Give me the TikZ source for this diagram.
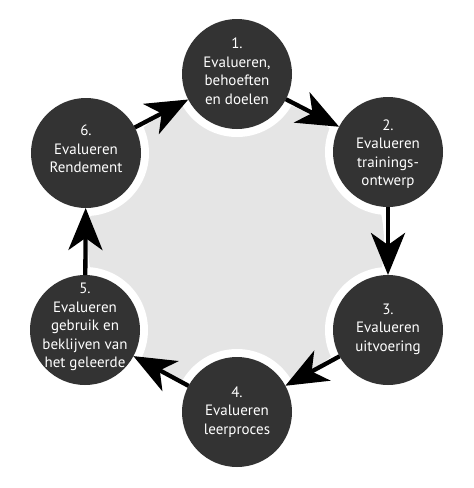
\documentclass[tikz,border=0pt]{standalone}
\usepackage{fontspec}
\setmainfont{PT Sans}
\usetikzlibrary{arrows.meta}
\definecolor{hubgray}{RGB}{229,229,229}
\definecolor{discdark}{RGB}{51,51,51}
\begin{document}
\begin{tikzpicture}[x=1pt,y=-1pt,
  hubdisc/.style={circle, fill=hubgray, minimum size=296pt, inner sep=0pt, outer sep=0pt},
  halo/.style={circle, fill=white, minimum size=126pt, inner sep=0pt, outer sep=0pt},
  stage/.style={circle, fill=discdark, minimum size=110pt, inner sep=0pt, outer sep=0pt},
  stagetext/.style={text=white, align=center, inner sep=0pt, font=\fontsize{15}{18.5}\selectfont},
  flow/.style={line width=4.3pt, -{Stealth[length=42pt,width=34pt,inset=12pt]}}]
\useasboundingbox (0,0) rectangle (474,488);
\node[hubdisc] (hub) at (236,243) {};
\foreach \n/\x/\y in {1/237/74, 2/388/152, 3/388/330, 4/237/412, 5/85/330, 6/86/153}
  \node[halo] (h\n) at (\x,\y) {};
\node[stage] (s1) at (237,74) {};
\node[stage] (s2) at (388,152) {};
\node[stage] (s3) at (388,330) {};
\node[stage] (s4) at (237,412) {};
\node[stage] (s5) at (85,330) {};
\node[stage] (s6) at (86,153) {};
\draw[flow] (s1) -- (s2);
\draw[flow] (s2) -- (s3);
\draw[flow] (s3) -- (s4);
\draw[flow] (s4) -- (s5);
\draw[flow] (s5) -- (s6);
\draw[flow] (s6) -- (s1);
\node[stagetext] (t1) at (237,71) {1.\\Evalueren,\\behoeften\\en doelen};
\node[stagetext] (t2) at (388,154) {2.\\Evalueren\\trainings-\\ontwerp};
\node[stagetext] (t3) at (388,329) {3.\\Evalueren\\uitvoering};
\node[stagetext] (t4) at (237,412) {4.\\Evalueren\\leerproces};
\node[stagetext] (t5) at (85,327) {5.\\Evalueren\\gebruik en\\beklijven van\\het geleerde};
\node[stagetext] (t6) at (86,149) {6.\\Evalueren\\Rendement};
\end{tikzpicture}
\end{document}
